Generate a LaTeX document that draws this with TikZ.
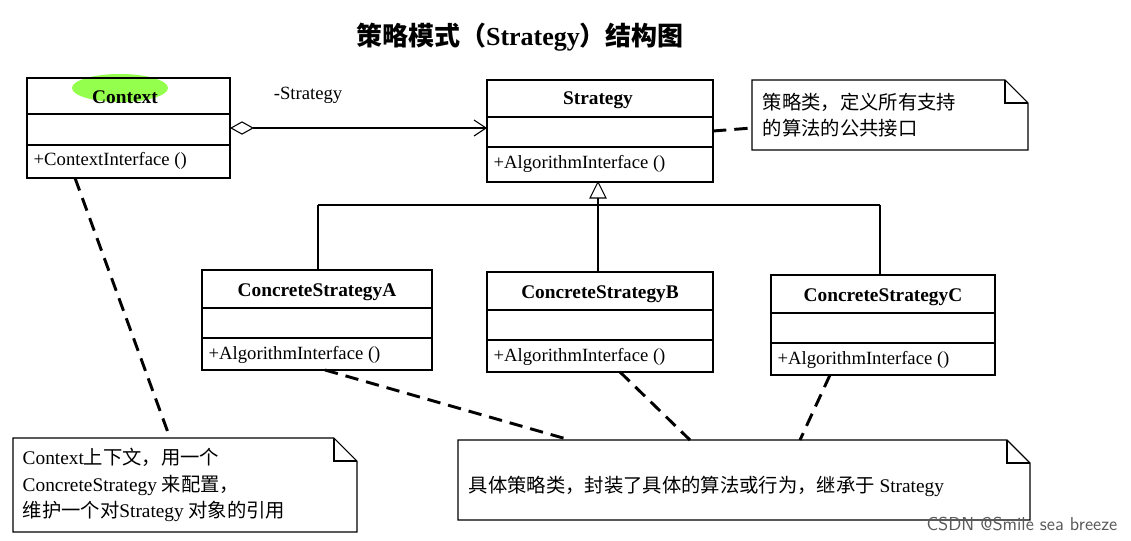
\documentclass[tikz,border=0pt]{standalone}
\usepackage{fontspec}
\setmainfont{Liberation Serif}
\newfontfamily\cjk{Noto Sans CJK SC}
\usetikzlibrary{arrows.meta,shapes.geometric}
\begin{document}
\begin{tikzpicture}[x=0.75pt,y=-0.75pt,
  box/.style={draw,line width=1pt},
  lbl/.style={font=\fontsize{14}{16}\selectfont},
  bl/.style={font=\fontsize{14.5}{16}\selectfont\bfseries},
  ntxt/.style={font=\fontsize{14.5}{20}\selectfont,align=left,anchor=west},
  dsh/.style={line width=2.2pt,dash pattern=on 10pt off 6pt},
  thin/.style={line width=0.8pt}]
\useasboundingbox (0,0) rectangle (1131,540);
\fill[white] (0,0) rectangle (1131,540);
\node[font=\fontsize{19.5}{22}\selectfont\bfseries] (title) at (520,37) {{\cjk\bfseries 策略模式（}Strategy{\cjk\bfseries ）结构图}};
% Context
\fill[green!60!yellow!70] (120,88) ellipse (48 and 14);
\draw[box] (27,78) rectangle (230,178); \draw[thin] (27,114)--(230,114) (27,145)--(230,145);
\node[bl] (ctx) at (125,97) {Context};
\node[lbl,anchor=west] (ctxm) at (29,161) {+ContextInterface ()};
\coordinate (ctxR) at (230,128); \coordinate (ctxB) at (75,178);
% Strategy
\draw[box] (487,80) rectangle (713,182); \draw[thin] (487,117)--(713,117) (487,147)--(713,147);
\node[bl] (st) at (598,100) {Strategy};
\node[lbl,anchor=west] (stm) at (489,164) {+AlgorithmInterface ()};
\coordinate (stL) at (487,128); \coordinate (stR) at (713,131); \coordinate (stB) at (598,182);
\draw[thin,{Diamond[open,length=18pt,width=10pt]}-{Straight Barb[length=9pt,width=12pt]}] (ctxR) -- (stL);
\node[lbl] (agg) at (308,95) {-Strategy};
% note1
\draw[box,thin] (752,80) -- (1005,80) -- (1028,103) -- (1028,150) -- (752,150) -- cycle;
\draw[thin] (1005,80)--(1005,103)--(1028,103);
\node[ntxt] (n1) at (758,115) {\cjk 策略类，定义所有支持\\\cjk 的算法的公共接口};
\draw[dsh] (stR) -- (752,128);
% concrete boxes
\foreach \n/\xa/\xb/\ya/\t in {A/202/432/270/ConcreteStrategyA, B/487/713/272/ConcreteStrategyB, C/771/995/275/ConcreteStrategyC}{
  \draw[box] (\xa,\ya) rectangle (\xb,\ya+100);
  \draw[thin] (\xa,\ya+38)--(\xb,\ya+38) (\xa,\ya+68)--(\xb,\ya+68);
  \node[bl] (c\n) at ({(\xa+\xb)/2},\ya+22) {\t};
  \node[lbl,anchor=west] (m\n) at (\xa+2,\ya+85) {+AlgorithmInterface ()};
}
% inheritance
\draw[thin] (590,198) -- (606,198) -- (598,182) -- cycle;
\draw[thin] (598,198) -- (598,272);
\draw[thin] (318,205) -- (880,205);
\draw[thin] (318,205) -- (318,270);
\draw[thin] (880,205) -- (880,275);
% note2
\draw[thin] (13,438) -- (334,438) -- (357,461) -- (357,532) -- (13,532) -- cycle;
\draw[thin] (334,438)--(334,461)--(357,461);
\node[ntxt] (n2) at (18,485) {Context{\cjk 上下文，用一个}\\ConcreteStrategy {\cjk 来配置，}\\{\cjk 维护一个对}Strategy {\cjk 对象的引用}};
% note3
\draw[thin] (458,440) -- (1007,440) -- (1030,463) -- (1030,520) -- (458,520) -- cycle;
\draw[thin] (1007,440)--(1007,463)--(1030,463);
\node[ntxt] (n3) at (464,486) {{\cjk 具体策略类，封装了具体的算法或行为，继承于} Strategy};
% dashed
\draw[dsh] (ctxB) -- (170,438);
\draw[dsh] (325,370) -- (570,440);
\draw[dsh] (620,372) -- (690,440);
\draw[dsh] (830,375) -- (800,440);
\node[font=\fontsize{14}{15}\selectfont\sffamily,text=gray!70!black,anchor=east] (wm) at (1122,524) {CSDN @Smile sea breeze};
\end{tikzpicture}
\end{document}
